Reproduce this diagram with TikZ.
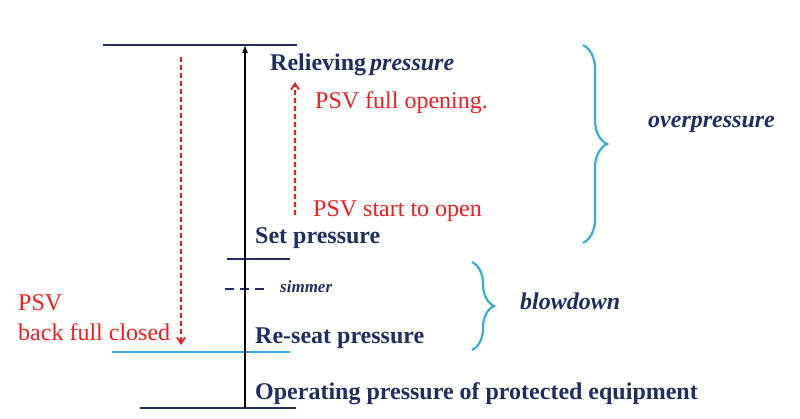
\documentclass[tikz,border=0pt]{standalone}
\usepackage{fontspec}
\setmainfont{Liberation Serif}
\usetikzlibrary{decorations.pathreplacing,arrows.meta}
\definecolor{navy}{RGB}{31,45,96}
\definecolor{cy}{RGB}{60,170,210}
\definecolor{rd}{RGB}{240,30,30}
\begin{document}
\begin{tikzpicture}[x=1pt,y=-1pt,
 lvl/.style={navy,line width=2pt},
 lab/.style={anchor=west,inner sep=0,text=navy,font=\fontsize{24}{24}\selectfont\bfseries},
 rlab/.style={anchor=west,inner sep=0,text=rd,font=\fontsize{24}{30}\selectfont},
 rarr/.style={rd,dash pattern=on 5pt off 3pt,line width=1.8pt,-{Straight Barb[length=6pt,width=8pt]}},
 br/.style={cy,line width=2.2pt,decorate,decoration={brace,amplitude=24pt,aspect=0.5}}]
\useasboundingbox (0,0) rectangle (800,418);
\coordinate (t1) at (103,45); \coordinate (t2) at (297,45);
\draw[lvl] (t1) -- (t2);
\coordinate (s1) at (227,259); \coordinate (s2) at (290,259);
\draw[lvl] (s1) -- (s2);
\coordinate (m1) at (225,289); \coordinate (m2) at (270,289);
\draw[lvl,dash pattern=on 9pt off 6pt] (m1) -- (m2);
\coordinate (r1) at (112,352); \coordinate (r2) at (290,352);
\draw[cy,line width=2pt] (r1) -- (r2);
\coordinate (o1) at (140,408); \coordinate (o2) at (296,408);
\draw[lvl] (o1) -- (o2);
\coordinate (vb) at (245,408); \coordinate (vt) at (245,45);
\draw[black,line width=1.2pt,-{Latex[length=8pt,width=6pt]}] (vb) -- (vt);
\node[lab] (rel) at (270,65) {Relieving\,\textit{pressure}};
\node[lab] (set) at (255,238) {Set pressure};
\node[anchor=west,inner sep=0,text=navy,font=\fontsize{17}{17}\selectfont\bfseries\itshape] (sim) at (280,287) {simmer};
\node[lab] (res) at (255,338) {Re-seat pressure};
\node[lab] (op) at (255,394) {Operating pressure of protected equipment};
\coordinate (a1) at (295,215); \coordinate (a2) at (295,82);
\draw[rarr] (a1) -- (a2);
\coordinate (b1) at (181,57); \coordinate (b2) at (181,345);
\draw[rarr] (b1) -- (b2);
\node[rlab] (full) at (315,103) {PSV full opening.};
\node[rlab] (start) at (313,211) {PSV start to open};
\node[rlab,align=left] (psv) at (18,318) {PSV\\back full closed};
\coordinate (c1) at (583,45); \coordinate (c2) at (583,243);
\draw[br] (c1) -- (c2);
\coordinate (d1) at (472,262); \coordinate (d2) at (472,350);
\draw[br,decoration={amplitude=22pt}] (d1) -- (d2);
\node[lab,font=\fontsize{24}{24}\selectfont\bfseries\itshape] (ov) at (648,124) {overpressure};
\node[lab,font=\fontsize{24}{24}\selectfont\bfseries\itshape] (bd) at (520,301) {blowdown};
\end{tikzpicture}
\end{document}
